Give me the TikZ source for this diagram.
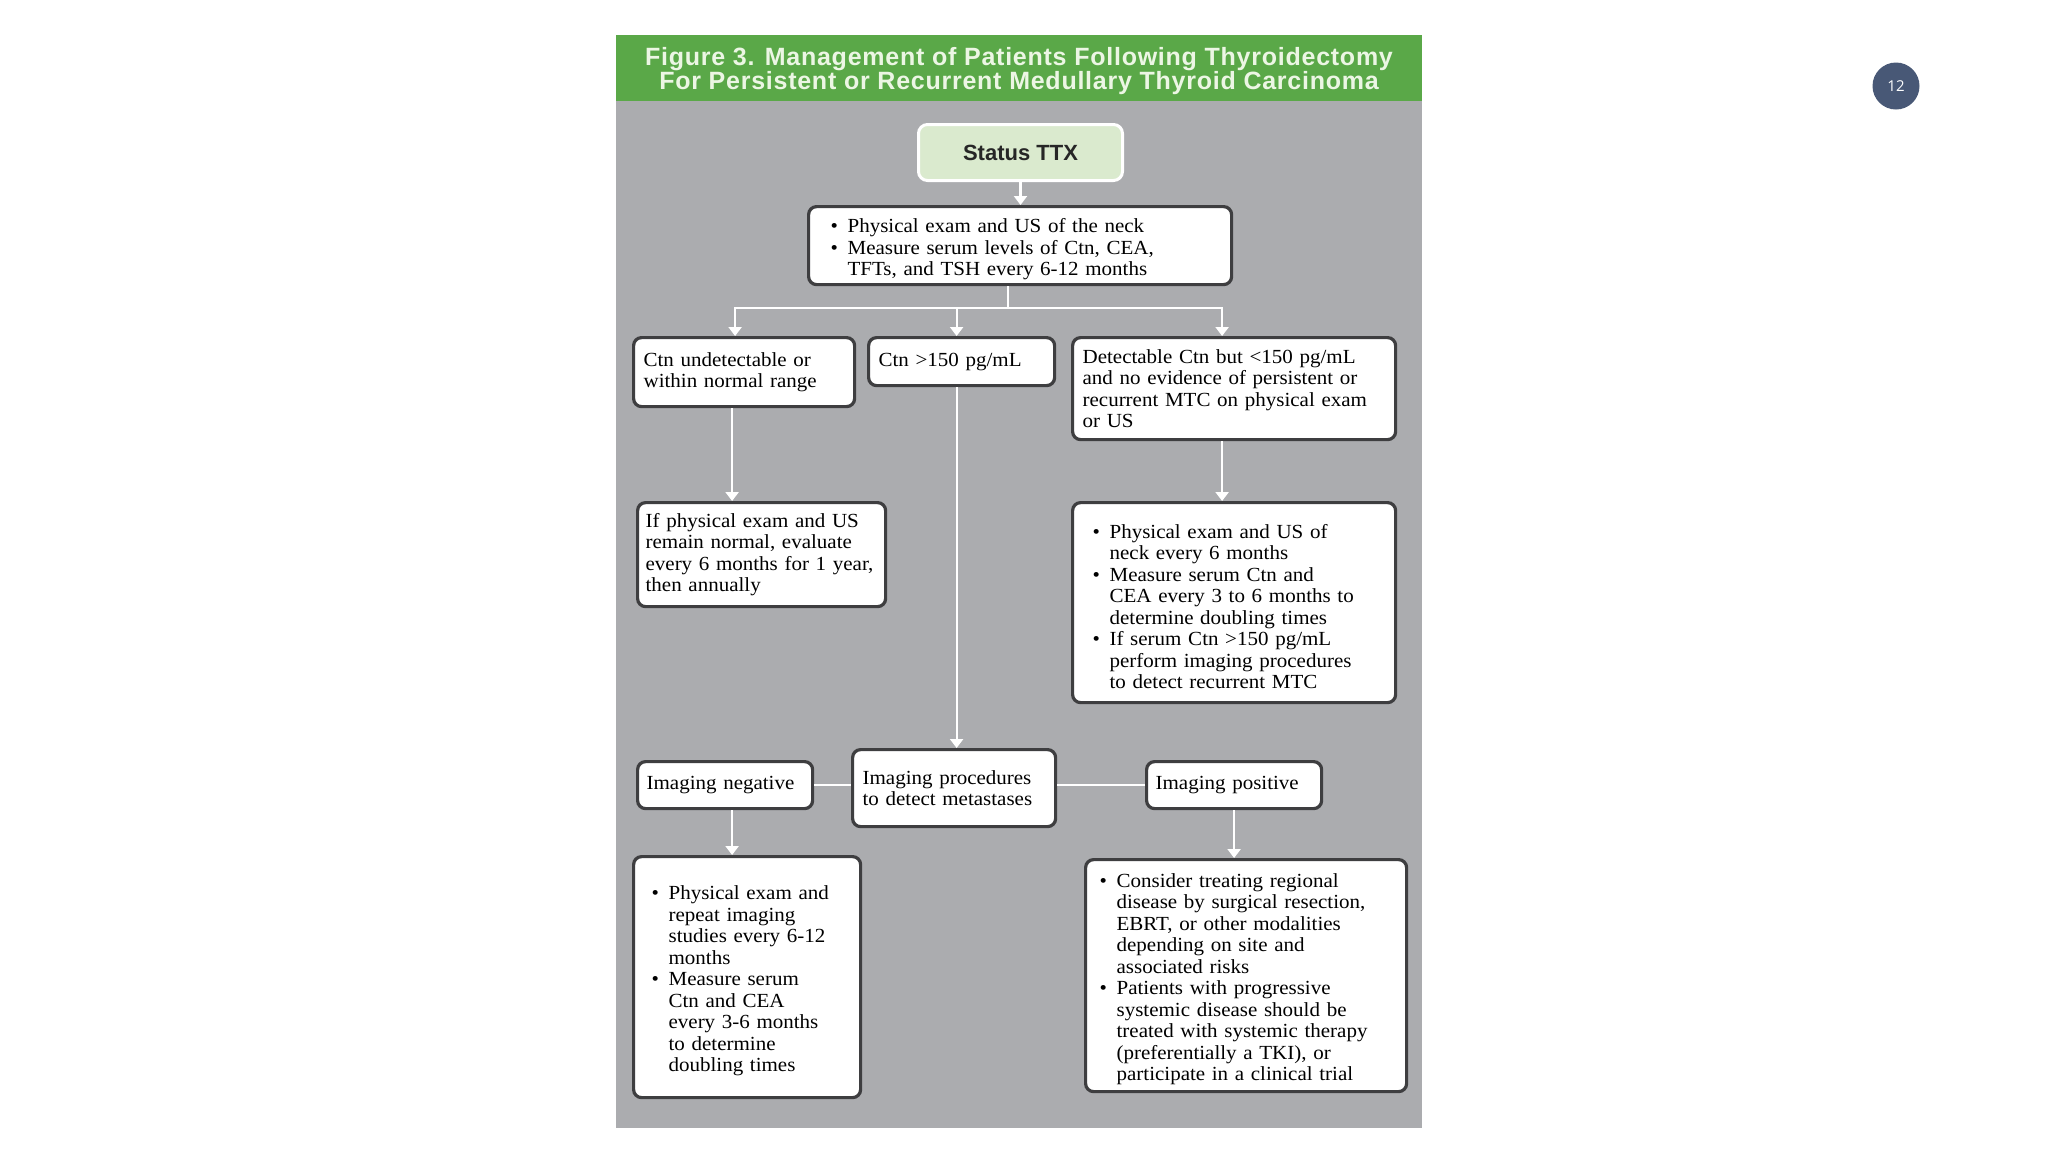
\documentclass[tikz,border=0pt]{standalone}
\usepackage{fontspec}
\setmainfont{Liberation Serif}[FakeStretch=1.05]
\newfontfamily\headfont{Liberation Sans}[LetterSpace=3]
\newfontfamily\labelfont{Liberation Sans}
\newfontfamily\numfont{Open Sans}
\usetikzlibrary{arrows.meta}
\definecolor{mtcgreen}{RGB}{90,168,72}
\definecolor{mtchead}{RGB}{236,246,228}
\definecolor{mtcgrey}{RGB}{171,172,175}
\definecolor{mtcedge}{RGB}{62,62,64}
\definecolor{mtcstatus}{RGB}{218,234,206}
\definecolor{mtcslate}{RGB}{72,88,118}
\newcommand{\bitem}[1]{\par\noindent\hangindent=17pt\hangafter=1\hbox to 17pt{\textbullet\hfil}#1\par}

\begin{document}
\begin{tikzpicture}[
  x=1pt, y=-1pt,
  font=\fontsize{20}{21.5}\selectfont,
  card/.style={draw=mtcedge, line width=3.2pt, fill=white, rounded corners=8pt, anchor=north west, align=left, inner ysep=4pt},
  status/.style={draw=white, line width=3pt, fill=mtcstatus, rounded corners=9pt, anchor=north west, text=black!85, font=\labelfont\bfseries\fontsize{22}{24}\selectfont},
  link/.style={draw=white, line width=2.2pt},
  flow/.style={link, -{Triangle[width=13pt,length=9pt]}}
]
\fill[white] (0,0) rectangle (2048,1152);

% figure panel
\fill[mtcgreen] (616,35) rectangle (1422,101);
\fill[mtcgrey] (616,101) rectangle (1422,1128);
\node[text=mtchead, align=center, font=\headfont\bfseries\fontsize{25}{24}\selectfont] (title) at (1019,71)
  {Figure 3. Management of Patients Following Thyroidectomy\\For Persistent or Recurrent Medullary Thyroid Carcinoma};

\node[circle, fill=mtcslate, minimum size=47pt, text=white, font=\numfont\fontsize{15}{15}\selectfont] (pageno) at (1896,86) {12};

% boxes
\node[status, minimum width=204pt, minimum height=56pt] (ttx) at (917,123) {Status TTX};
\node[card, minimum width=423pt, minimum height=78pt, text width=379pt, inner xsep=22pt] (exam) at (807,205)
  {\bitem{Physical exam and US of the neck}\bitem{Measure serum levels of Ctn, CEA,\newline TFTs, and TSH every 6-12 months}};

\node[card, minimum width=221pt, minimum height=69pt, text width=201pt, inner xsep=10pt] (undet) at (632,336)
  {Ctn undetectable or\\within normal range};
\node[card, minimum width=186pt, minimum height=48pt, text width=166pt, inner xsep=10pt] (high) at (867,336)
  {Ctn >150 pg/mL};
\node[card, minimum width=323pt, minimum height=102pt, text width=303pt, inner xsep=10pt] (detect) at (1071,336)
  {Detectable Ctn but <150 pg/mL\\and no evidence of persistent or\\recurrent MTC on physical exam\\or US};

\node[card, minimum width=248pt, minimum height=104pt, text width=232pt, inner xsep=8pt] (normal) at (636,501)
  {If physical exam and US\\remain normal, evaluate\\every 6 months for 1 year,\\then annually};
\node[card, minimum width=323pt, minimum height=200pt, text width=283pt, inner xsep=20pt] (watch) at (1071,501)
  {\bitem{Physical exam and US of\newline neck every 6 months}\bitem{Measure serum Ctn and\newline CEA every 3 to 6 months to\newline determine doubling times}\bitem{If serum Ctn >150 pg/mL\newline perform imaging procedures\newline to detect recurrent MTC}};

\node[card, minimum width=203pt, minimum height=77pt, text width=183pt, inner xsep=10pt] (imgproc) at (851,748)
  {Imaging procedures\\to detect metastases};
\node[card, minimum width=175pt, minimum height=47pt, text width=157pt, inner xsep=9pt] (neg) at (636,760)
  {Imaging negative};
\node[card, minimum width=175pt, minimum height=47pt, text width=157pt, inner xsep=9pt] (pos) at (1145,760)
  {Imaging positive};

\node[card, minimum width=227pt, minimum height=241pt, text width=191pt, inner xsep=18pt] (negcare) at (632,855)
  {\bitem{Physical exam and\newline repeat imaging\newline studies every 6-12\newline months}\bitem{Measure serum\newline Ctn and CEA\newline every 3-6 months\newline to determine\newline doubling times}};
\node[card, minimum width=321pt, minimum height=232pt, text width=293pt, inner xsep=14pt] (poscare) at (1084,858)
  {\bitem{Consider treating regional\newline disease by surgical resection,\newline EBRT, or other modalities\newline depending on site and\newline associated risks}\bitem{Patients with progressive\newline systemic disease should be\newline treated with systemic therapy\newline (preferentially a TKI), or\newline participate in a clinical trial}};

% connectors
\coordinate (split) at (1008,308);
\draw[flow] (ttx.south) -- (ttx.south |- exam.north);
\draw[link] (exam.south -| split) -- (split);
\draw[flow] (split) -| ([xshift=-9pt]undet.north);
\draw[flow] (split) -| ([xshift=-5pt]high.north);
\draw[flow] (split) -| ([xshift=-12pt]detect.north);
\draw[flow] ([xshift=-12pt]undet.south) -- ([xshift=-12pt]undet.south |- normal.north);
\draw[flow] ([xshift=-12pt]detect.south) -- ([xshift=-12pt]detect.south |- watch.north);
\draw[flow] ([xshift=-5pt]high.south) -- ([xshift=-5pt]high.south |- imgproc.north);
\draw[link] (neg.east) -- (neg.east -| imgproc.west);
\draw[link] (pos.west) -- (pos.west -| imgproc.east);
\draw[flow] ([xshift=7pt]neg.south) -- ([xshift=7pt]neg.south |- negcare.north);
\draw[flow] (pos.south) -- (pos.south |- poscare.north);
\end{tikzpicture}
\end{document}
